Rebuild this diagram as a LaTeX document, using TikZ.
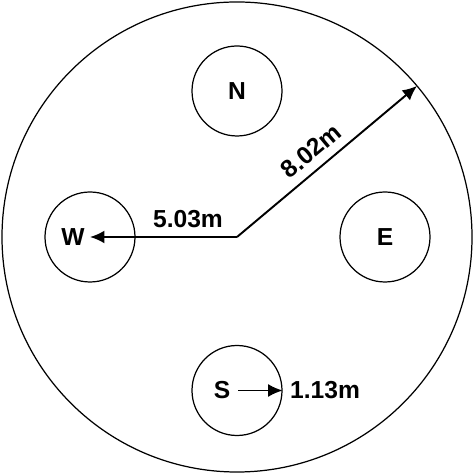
\documentclass[tikz,border=0pt]{standalone}
\usepackage{fontspec}
\setmainfont{Liberation Sans}
\usetikzlibrary{arrows.meta}
\definecolor{ink}{HTML}{000000}
\tikzset{
  rim/.style={draw=ink, line width=0.7pt},
  hole/.style={circle, draw=ink, line width=0.7pt, minimum size=1.8cm, inner sep=0pt},
  dimarrow/.style={draw=ink, line width=1.1pt, -{Latex[length=2.9mm,width=2.6mm]}},
  lab/.style={text=ink, font=\bfseries\fontsize{14}{16}\selectfont, inner sep=1pt}
}
\begin{document}
\begin{tikzpicture}
  \useasboundingbox (-4.74,-4.74) rectangle (4.74,4.74);

  \def\R{4.7}
  \coordinate (O) at (0,0);
  \draw[rim] (O) circle (\R);

  % the four small circles
  \node[hole] (N) at (0,2.92) {};
  \node[hole] (W) at (-2.94,0) {};
  \node[hole] (E) at (2.96,0) {};
  \node[hole] (S) at (0,-3.07) {};

  \node[lab] (Nl) at (N) {N};
  \node[lab] (El) at (E) {E};
  \node[lab] (Wl) at (-3.28,0) {W};
  \node[lab] (Sl) at (-0.3,-3.07) {S};

  % dimension arrows
  \coordinate (edge) at (40:\R);
  \coordinate (Sa) at (0.02,-3.07);
  \draw[dimarrow] (O) -- (W.center);
  \draw[dimarrow] (O) -- (edge);
  \draw[dimarrow] (Sa) -- (S.east);

  \node[lab] (r1) at (-0.98,0.36) {5.03m};
  \node[lab, rotate=40] (r2) at (1.48,1.72) {8.02m};
  \node[lab] (r3) at (1.76,-3.07) {1.13m};
\end{tikzpicture}
\end{document}
